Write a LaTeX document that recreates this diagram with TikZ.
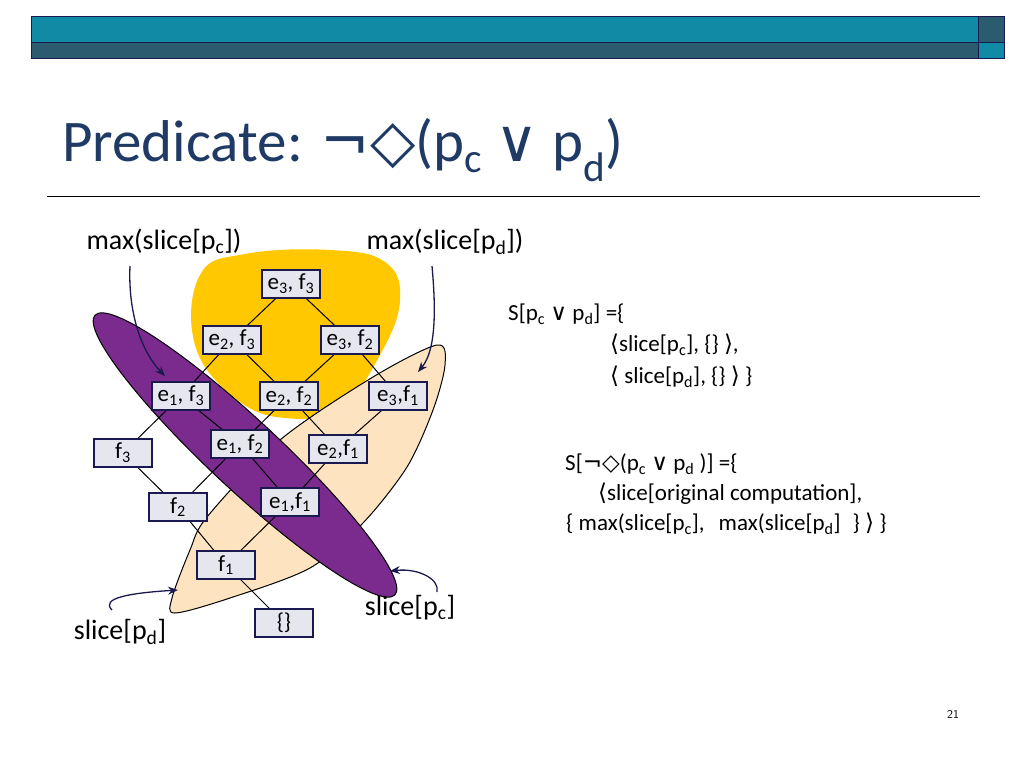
\documentclass[tikz,border=0pt]{standalone}
\usepackage{fontspec}
\setmainfont{Carlito}
\newfontfamily\sym{DejaVu Sans}
\usetikzlibrary{arrows.meta}
\definecolor{teal1}{HTML}{118AA6}
\definecolor{teal2}{HTML}{2B5B6E}
\definecolor{navy}{HTML}{1A1A50}
\definecolor{ttl}{HTML}{1F3A64}
\definecolor{ylw}{HTML}{FFC800}
\definecolor{purp}{HTML}{7B2A8E}
\definecolor{beige}{HTML}{FDE3C0}
\definecolor{boxg}{HTML}{E6E6EE}
\newcommand{\OR}{{\sym\char"2228}}
\newcommand{\NOT}{{\sym\char"00AC}}
\newcommand{\DIA}{{\sym\char"25C7}}
\newcommand{\LA}{{\sym\char"27E8}}
\newcommand{\RA}{{\sym\char"27E9}}
\tikzset{
 ev/.style={draw=navy,line width=1.2pt,fill=boxg,minimum width=58pt,minimum height=28pt,inner sep=1pt,font=\fontsize{23}{23}\selectfont},
 ed/.style={draw=black,line width=1pt},
 lbl/.style={font=\fontsize{28}{28}\selectfont,inner sep=0pt},
 txt/.style={font=\fontsize{23}{23}\selectfont,anchor=west,inner sep=0pt},
 arr/.style={draw=navy,line width=1.3pt,-{Stealth[length=10pt,width=8pt]}}
}
\begin{document}
\begin{tikzpicture}[x=1pt,y=-1pt]
\useasboundingbox (0,0) rectangle (1024,768);
% header bar
\fill[teal1] (31,16) rectangle (978,42);
\fill[teal2] (31,42) rectangle (978,58);
\fill[teal2] (978,16) rectangle (1004,42);
\fill[teal1] (978,42) rectangle (1004,58);
\draw[navy,line width=0.8pt] (31,16) rectangle (1004,58) (31,42)--(1004,42) (978,16)--(978,58);
% title
\node[anchor=west,text=ttl,font=\fontsize{59}{59}\selectfont,inner sep=0pt] (title) at (62,150) {Predicate: \NOT\DIA(p\textsubscript{c} \OR\ p\textsubscript{d})};
\draw[line width=0.8pt] (47,196) -- (980,196);
% yellow blob
\fill[ylw] plot[smooth cycle,tension=0.7] coordinates {(200,275) (245,254) (330,250) (385,262) (400,300) (380,355) (340,408) (285,418) (235,398) (195,345)};
% beige
\filldraw[fill=beige,draw=black,line width=1pt] plot[smooth cycle,tension=0.5] coordinates {(437,345) (445,365) (433,410) (407,467) (363,523) (310,568) (230,598) (175,613) (172,598) (190,550) (207,517) (280,440) (373,377)};
% purple
\filldraw[fill=purp,draw=black,line width=1pt,rotate around={-43:(245,455)}] (245,455) ellipse (205pt and 35pt);
% edges
\node[ev] (a) at (291,284) {};
\node[ev] (b) at (232,340) {};
\node[ev] (c) at (350,340) {};
\node[ev] (d) at (181,396) {};
\node[ev] (e) at (289,396) {};
\node[ev] (f) at (398,396) {};
\node[ev] (g) at (123,453) {};
\node[ev] (h) at (240,444) {};
\node[ev] (i) at (338,449) {};
\node[ev] (j) at (178,507) {};
\node[ev] (k) at (290,502) {};
\node[ev] (l) at (226,565) {};
\node[ev] (m) at (284,623) {};
\foreach \u/\v in {a/b,a/c,b/d,b/e,c/e,c/f,d/g,d/h,e/h,e/i,f/i,g/j,h/j,h/k,i/k,j/l,k/l,l/m}
  \draw[ed] (\u) -- (\v);
% nodes on top
\node[ev] at (a) {e\textsubscript{3}, f\textsubscript{3}};
\node[ev] at (b) {e\textsubscript{2}, f\textsubscript{3}};
\node[ev] at (c) {e\textsubscript{3}, f\textsubscript{2}};
\node[ev] at (d) {e\textsubscript{1}, f\textsubscript{3}};
\node[ev] at (e) {e\textsubscript{2}, f\textsubscript{2}};
\node[ev] at (f) {e\textsubscript{3},f\textsubscript{1}};
\node[ev] at (g) {f\textsubscript{3}};
\node[ev] at (h) {e\textsubscript{1}, f\textsubscript{2}};
\node[ev] at (i) {e\textsubscript{2},f\textsubscript{1}};
\node[ev] at (j) {f\textsubscript{2}};
\node[ev] at (k) {e\textsubscript{1},f\textsubscript{1}};
\node[ev] at (l) {f\textsubscript{1}};
\node[ev] at (m) {\{\}};
% labels
\node[lbl] (mc) at (164,242) {max(slice[p\textsubscript{c}])};
\node[lbl] (md) at (445,242) {max(slice[p\textsubscript{d}])};
\node[lbl] (sd) at (120,632) {slice[p\textsubscript{d}]};
\node[lbl] (sc) at (410,608) {slice[p\textsubscript{c}]};
\coordinate (t1) at (165,376);
\coordinate (t2) at (418,372);
\coordinate (t3) at (178,590);
\coordinate (t4) at (390,571);
\draw[arr] (130,266) .. controls (128,310) and (140,350) .. (t1);
\draw[arr] (432,266) .. controls (436,310) and (436,350) .. (t2);
\draw[arr] (112,610) .. controls (100,598) and (130,593) .. (t3);
\draw[arr] (437,592) .. controls (440,580) and (420,568) .. (t4);
% right text
\node[txt] (s1) at (508,314) {S[p\textsubscript{c} \OR\ p\textsubscript{d}] =\{};
\node[txt] (s2) at (610,345) {\LA slice[p\textsubscript{c}], \{\} \RA,};
\node[txt] (s3) at (610,377) {\LA\ slice[p\textsubscript{d}], \{\} \RA\ \}};
\node[txt] (s4) at (565,464) {S[\NOT\DIA(p\textsubscript{c} \OR\ p\textsubscript{d} )] =\{};
\node[txt] (s5) at (598,494) {\LA slice[original computation],};
\node[txt] (s6) at (566,524) {\{ max(slice[p\textsubscript{c}],\hspace{14pt}max(slice[p\textsubscript{d}]\hspace{12pt}\} \RA\ \}};
\node[font=\fontsize{12}{12}\selectfont\sffamily] (pg) at (953,714) {21};
\end{tikzpicture}
\end{document}
